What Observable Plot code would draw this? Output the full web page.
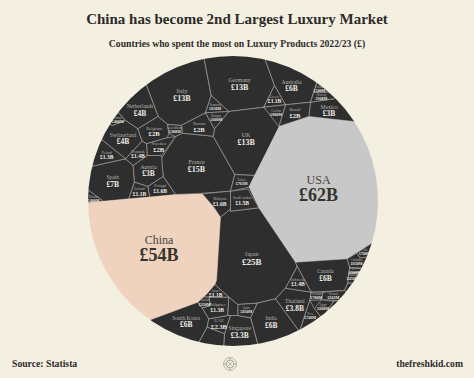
<!DOCTYPE html>
<html><head><meta charset="utf-8">
<script src="https://cdn.jsdelivr.net/npm/d3@7"></script>
<script src="https://cdn.jsdelivr.net/npm/@observablehq/plot@0.6"></script>
<style>
html,body{margin:0;padding:0;background:#f4f0e1;}
#page{width:474px;height:378px;overflow:hidden;position:relative;font-family:"Liberation Serif",serif;color:#2c2b2a;}
#head{height:55px;text-align:center;}
#title{font-weight:700;font-size:15px;line-height:18px;padding-top:10px;}
#sub{font-weight:700;font-size:9.7px;line-height:12px;padding-top:10px;}
#chart svg{display:block;clip-path:circle(145px at 233px 146px);opacity:.999;}
#foot{position:absolute;left:0;right:0;top:358px;font-weight:700;font-size:9.7px;line-height:12px;}
#foot .l{position:absolute;left:12px;}
#foot .r{position:absolute;right:11px;}
#foot svg{position:absolute;left:223px;top:-1px;}
</style></head>
<body><div id="page">
<div id="head"><div id="title">China has become 2nd Largest Luxury Market</div>
<div id="sub">Countries who spent the most on Luxury Products 2022/23 (£)</div></div>
<div id="chart"></div>
<div id="foot"><span class="l">Source: Statista</span>
<svg width="14" height="14" viewBox="0 0 14 14" fill="none" stroke="#8d8a80" stroke-width=".6"><circle cx="7" cy="7" r="6.4"/><path d="M7 .6V4M7 10v3.4M.6 7H4M10 7h3.4M4 4l3-1 3 1 1 3-1 3-3 1-3-1-1-3zM4 4l3 3 3-3M4 10l3-3 3 3"/></svg>
<span class="r">thefreshkid.com</span></div>
</div>
<script>
const cellNames = ["USA","China","Japan","France","Italy","Germany","UK","Spain","Australia","Canada","India","South Korea",
 "Netherlands","Switzerland","Thailand","Singapore","Austria","Mexico","UAE","Belgium","Sweden","Russia","Brazil",
 "Malaysia","Portugal","Saudi Arabia","Denmark","Indonesia","Poland","Philippines","Ireland","Greece","Israel",
 "Turkey","Qatar","Czechia","Romania","Hungary","Norway","Finland","Vietnam","Kuwait","Egypt","Peru","Chile","Colombia","Argentina","Bahrain","Oman","Monaco","Luxembourg","Taiwan"];
const cellValues = ["£62B","£54B","£25B","£15B","£13B","£13B","£13B","£7B","£6B","£6B","£6B","£6B",
 "£4B","£4B","£3.8B","£3.3B","£3B","£3B","£2.3B","£2B","£2B","£2B","£2B",
 "£1.6B","£1.6B","£1.5B","£1.4B","£1.4B","£1.3B","£1.3B","£1.1B","£1.1B","£1.1B",
 "£763M","£850M","£900M","£650M","£600M","£948M","£500M","£780M","£643M","£600M","£746M","£700M","£650M","£500M","£450M","£400M","£400M","£300M","£350M"];
// Cell outlines (map units); rim vertices run just past the circle.
const cellOutlines = [
 [[308.3,116],[353.3,121],[361.6,115.2],[378.7,148],[387.4,187.5],[385.6,227.9],[381.8,244.4],[372.7,241.7],[346.7,258.3],[295,261.7],[258.3,207.3],[248.3,186.7],[254,175],[278.3,126]],
 [[78,203],[175,194],[201.7,193.3],[213.3,206.7],[220,216.7],[216,280],[214.3,284],[206.7,293.3],[197.3,301.7],[150,319.3],[144,328],[114.3,300.6],[92.5,266.5],[80.4,227.9]],
 [[230,210.7],[258.3,207.3],[295,261.7],[296.7,266],[285,287.7],[275,298.3],[256.7,302.7],[237.3,304],[228.3,296.7],[214.3,284],[216,280],[220,216.7],[230,208.3]],
 [[175,136],[181.7,132.7],[212.7,135.7],[234.3,174],[230,190.7],[203.3,192.7],[175,194],[162.7,176],[160.7,158.3]],
 [[140,77],[201.8,49],[204,60],[210.7,95],[205,112.3],[180.7,125],[167.3,124],[157.7,116],[146,85]],
 [[201.8,49],[267.3,50],[265,60],[274,85],[263.3,106.7],[228.3,111],[210.7,95],[204,60]],
 [[214,128.3],[228.3,111],[263.3,106.7],[280,126],[254,175],[234.3,174],[212.7,135.7]],
 [[78,189],[82.6,163.4],[91.7,165.7],[125,158.3],[132.7,165],[134,181.7],[128.3,198.3],[103,200.8],[88.3,190]],
 [[267.3,50],[322.3,74],[316,83],[310,101.7],[285,104.3],[274,85],[265,60]],
 [[295,261.7],[346.7,258.3],[349.3,267.3],[348.3,272.3],[347.3,282.7],[344,290],[310.7,291.7],[296.7,266]],
 [[256.7,302.7],[275,298.3],[298.3,330],[303,339.3],[258.4,353],[256.7,341.7],[250,317.3]],
 [[144,328],[150,319.3],[197.3,301.7],[201.7,307.3],[208.3,318.3],[206.7,326.7],[199.3,340],[196.5,351.7]],
 [[110,106],[140,77],[146,85],[157.7,116],[137.3,128.3],[125,120],[118.3,112.7]],
 [[92.6,135.5],[104.5,120.5],[111.7,125],[125,120],[137.3,128.3],[141.7,140.7],[125,158.3],[102.3,140]],
 [[275,298.3],[285,287.7],[310.7,291.7],[309.3,300],[300,328.3],[298.3,330]],
 [[230,315],[237.3,315],[250,317.3],[256.7,341.7],[258.4,353],[222.4,355],[223.3,343.3],[224,333.3]],
 [[132.7,165],[146.7,155],[161,155],[162.7,176],[147.3,186],[134,181.7]],
 [[310,101.7],[333.3,98.3],[340.9,89.8],[361.6,115.2],[353.3,121],[308.3,116]],
 [[208.3,318.3],[227.3,315],[230,315],[224,333.3],[206.7,326.7]],
 [[137.3,128.3],[157.7,116],[167.3,124],[168.3,133],[166.7,137.3],[146,143.3],[141.7,140.7]],
 [[146,143.3],[166.7,137.3],[175,136],[161,155],[146.7,155]],
 [[180.7,125],[205,112.3],[214,128.3],[212.7,135.7],[181.7,132.7]],
 [[285,104.3],[310,101.7],[308.3,116],[278.3,126]],
 [[201.7,193.3],[230,190.7],[230,208.3],[220,216.7],[213.3,206.7]],
 [[147.3,186],[162.7,176],[175,194],[149,196.7]],
 [[230,190.7],[247.5,188.5],[258.3,207.3],[230,210.7]],
 [[125,158.3],[141.7,140.7],[146,143.3],[146.7,155],[132.7,165]],
 [[296.7,266],[310.7,291.7],[285,287.7]],
 [[82.6,163.4],[92.6,135.5],[102.3,140],[125,158.3],[91.7,165.7]],
 [[208.3,296.7],[228.3,296.7],[227.3,315],[208.3,318.3],[201.7,307.3],[210,305]],
 [[134,181.7],[147.3,186],[149,196.7],[128.3,198.3]],
 [[274,85],[285,104.3],[263.3,106.7]],
 [[214.3,284],[228.3,296.7],[203,296.5]],
 [[234.3,174],[254,175],[248.3,186.7],[230,190.7]],
 [[237.3,304],[256.7,302.7],[250,317.3],[237.3,315]],
 [[263.3,106.7],[285,104.3],[278.3,126]],
 [[210.7,95],[228.3,111],[205,112.3]],
 [[205,112.3],[228.3,111],[214,128.3]],
 [[313.3,91.7],[326.7,91.7],[340.9,89.8],[333.3,98.3],[310,101.7]],
 [[316,83],[322.3,74],[333.9,83.4],[326.7,91.7],[313.3,91.7]],
 [[310.7,291.7],[322.7,291.7],[320.7,299.3],[309.3,300]],
 [[322.7,291.7],[344,290],[352.3,296.4],[345.8,307],[338.3,300],[320.7,299.3]],
 [[320.7,299.3],[333.3,300.7],[321.7,318.3],[314,308.3]],
 [[309.3,300],[314,308.3],[321.7,318.3],[325,325],[305,338],[300,328.3]],
 [[356,252.7],[372.7,241.7],[381.8,244.4],[376,260.6],[366.7,256.7],[359.3,257.3]],
 [[346.7,258.3],[356,252.7],[359.3,257.3],[366.7,256.7],[376,260.6],[373,270],[361.7,268.3],[349.3,267.3]],
 [[349.3,267.3],[361.7,268.3],[373,270],[368.4,276.4],[360,271.7],[348.3,272.3]],
 [[348.3,272.3],[360,271.7],[368.4,276.4],[360,289.4],[351,282.7],[347.3,282.7]],
 [[104.5,120.5],[110,106],[118.3,112.7],[125,120],[111.7,125]],
 [[78,189],[88.3,190],[103,200.8],[78,203]],
 [[167.3,124],[180.7,125],[181.7,132.7],[175,136],[168.3,133]],
 [[197.3,301.7],[203,296.5],[208.3,296.7],[210,305],[201.7,307.3]]
];
// Cells without a readable label, kept in the drawing only
const unlabelledOutlines = [
 [[228.3,296.7],[237.3,304],[237.3,315],[227.3,315]],
 [[206.7,326.7],[224,333.3],[223.3,343.3],[222.4,355],[196.5,351.7],[199.3,340]],
 [[347.3,282.7],[351,282.7],[360,289.4],[352.3,296.4],[344,290]],
 [[333.3,300.7],[338.3,300],[345.8,307],[325,325],[321.7,318.3]]
];
const groups = ["USA","China","Other"];
const groupColors = ["#c9c8c8","#efd3bf","#2f2e2e"];
const rimCentre = [233,201], rimRadius = 145;

const amount = s => { const n = parseFloat(s.slice(1)); return s.endsWith("M") ? n/1000 : n; };
const nameSize = v => v>=50?12 : v>=10?6 : v>=3?5.5 : v>=1.9?4.6 : v>=1?3.6 : 3;
const valueSize = v => v>=50?18 : v>=20?9 : v>=10?8 : v>=3?7.5 : v>=1.9?6.6 : v>=1?5.6 : 4;
const toRim = ([x,y]) => { const dx=x-rimCentre[0], dy=y-rimCentre[1], d=Math.hypot(dx,dy);
  return d<=rimRadius ? [x,y] : [rimCentre[0]+dx*rimRadius/d, rimCentre[1]+dy*rimRadius/d]; };

const vertices = [];
const addCell = (name, outline) => { [...outline, outline[0]].forEach(([x,y]) => vertices.push({name, x, y, group: groups.includes(name)?name:"Other"})); };
cellOutlines.forEach((o,i) => addCell(cellNames[i], o));
unlabelledOutlines.forEach((o,i) => addCell("unlabelled"+i, o));

const labels = cellOutlines.map((o,i) => {
  const [cx,cy] = d3.polygonCentroid(o.map(toRim)), v = amount(cellValues[i]);
  const big = v>=50;
  return {name:cellNames[i], value:cellValues[i], x:cx,
    ny:cy-valueSize(v)*0.45-(big?1.5:0), vy:cy+nameSize(v)*0.65-(big?1.5:0), ns:nameSize(v), vs:valueSize(v), big};
});

const plot = Plot.plot({
  width:474, height:292, margin:0,
  x:{domain:[0,474], range:[0,474], axis:null},
  y:{domain:[55,347], range:[0,292], axis:null},
  color:{domain:groups, range:groupColors},
  style:{background:"transparent", overflow:"visible"},
  marks:[
    Plot.dot([rimCentre],{x:d=>d[0], y:d=>d[1], r:rimRadius+1, fill:"#2f2e2e", stroke:"none"}),
    Plot.line(vertices.filter(d=>d.group==="Other"),{x:"x", y:"y", z:"name", fill:"group", stroke:"#a3a29d", strokeWidth:0.7, strokeLinejoin:"round"}),
    Plot.line(vertices.filter(d=>d.group!=="Other"),{x:"x", y:"y", z:"name", fill:"group", stroke:"none"}),
    Plot.text(labels,{x:"x", y:"ny", text:"name", fontSize:"ns", fontFamily:"Liberation Serif",
      fill:d=>d.big?"#45433f":"#b4b2ac", stroke:"none"}),
    Plot.text(labels,{x:"x", y:"vy", text:"value", fontSize:"vs", fontWeight:700, fontFamily:"Liberation Serif",
      fill:d=>d.big?"#35332f":"#eeece6", stroke:"none"})
  ]
});
document.getElementById("chart").append(plot);
</script>
</body></html>
